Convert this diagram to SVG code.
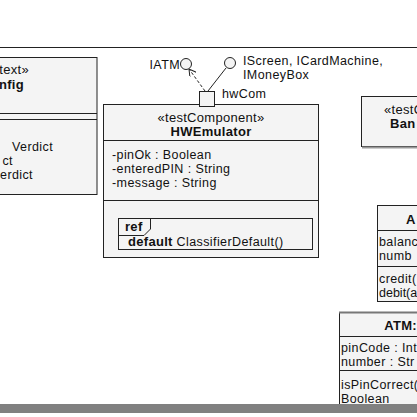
<svg xmlns="http://www.w3.org/2000/svg" width="417" height="417" viewBox="0 0 417 417">
<defs>
<style>
text{font-family:"Liberation Sans",Arial,sans-serif;font-size:12.5px;letter-spacing:0.4px;fill:#111}
.b{font-weight:bold;font-size:13px;letter-spacing:0.3px}
.st{font-size:13px;letter-spacing:0.3px}
.box{fill:#f4f4f4;stroke:#222;stroke-width:1}
.ln{stroke:#222;stroke-width:1;fill:none}
</style>
<marker id="arr" markerWidth="8" markerHeight="8" refX="7" refY="4" orient="auto" markerUnits="userSpaceOnUse">
<path d="M0,0 L7,4 L0,8" fill="none" stroke="#222" stroke-width="1"/>
</marker>
</defs>
<rect width="417" height="417" fill="#fff"/>
<line x1="0" y1="47.5" x2="417" y2="47.5" class="ln"/>

<g id="config">
<rect x="-5" y="57.5" width="102" height="137" class="box"/>
<line x1="-5" y1="113.5" x2="97" y2="113.5" class="ln"/>
<line x1="-5" y1="119.5" x2="97" y2="119.5" class="ln"/>
<text x="29" y="74" text-anchor="end" class="st">text»</text>
<text x="24" y="89" text-anchor="end" class="b">nfig</text>
<text x="12" y="151">Verdict</text>
<text x="13" y="165" text-anchor="end">ct</text>
<text x="33" y="179" text-anchor="end">erdict</text>
</g>

<g id="connectors">
<line x1="205" y1="91" x2="189" y2="69" class="ln" stroke-dasharray="3,2" marker-end="url(#arr)"/>
<line x1="208" y1="91" x2="226" y2="68" class="ln"/>
</g>

<g id="iatm">
<circle cx="186" cy="64" r="5.5" fill="#f4f4f4" stroke="#222"/>
<text x="180" y="69" text-anchor="end">IATM</text>
</g>
<g id="iscreen">
<circle cx="230" cy="63" r="5.5" fill="#f4f4f4" stroke="#222"/>
<text x="243" y="65">IScreen, ICardMachine,</text>
<text x="243" y="79">IMoneyBox</text>
</g>

<g id="hwemulator">
<rect x="103.5" y="104.5" width="215" height="153" class="box"/>
<line x1="103.5" y1="140.5" x2="318.5" y2="140.5" class="ln"/>
<line x1="103.5" y1="200.5" x2="318.5" y2="200.5" class="ln"/>
<text x="211" y="122" text-anchor="middle" class="st">«testComponent»</text>
<text x="211" y="136" text-anchor="middle" class="b">HWEmulator</text>
<text x="112" y="159">-pinOk : Boolean</text>
<text x="112" y="173">-enteredPIN : String</text>
<text x="112" y="187">-message : String</text>
<rect x="118.5" y="218.5" width="194" height="31" class="ln"/>
<path d="M118.5,235.5 H144 L150.5,229 V218.5" class="ln"/>
<text x="125" y="231" class="b">ref</text>
<text x="128" y="246"><tspan class="b">default</tspan> ClassifierDefault()</text>
</g>

<g id="hwcom">
<rect x="199.5" y="91.5" width="15" height="15" class="box"/>
<text x="222" y="98">hwCom</text>
</g>

<g id="bank">
<rect x="361.5" y="96.5" width="60" height="50" class="box"/>
<line x1="362" y1="147.5" x2="417" y2="147.5" stroke="#999" stroke-width="2"/>
<text x="384" y="114" class="st">«testC</text>
<text x="390" y="128" class="b">Ban</text>
</g>

<g id="account">
<rect x="377.5" y="205.5" width="45" height="96" class="box"/>
<line x1="377.5" y1="230.5" x2="417" y2="230.5" class="ln"/>
<line x1="377.5" y1="266.5" x2="417" y2="266.5" class="ln"/>
<text x="406" y="224" class="b">A</text>
<text x="379" y="246">balanc</text>
<text x="379" y="260">numb</text>
<text x="379" y="283">credit(</text>
<text x="379" y="297" style="letter-spacing:0">debit(a</text>
</g>

<g id="atm">
<rect x="339.5" y="312.5" width="85" height="100" class="box"/>
<line x1="339" y1="312.5" x2="417" y2="312.5" stroke="#777" stroke-width="2"/>
<line x1="339.5" y1="336.5" x2="417" y2="336.5" class="ln"/>
<line x1="339.5" y1="370.5" x2="417" y2="370.5" class="ln"/>
<text x="417" y="330" text-anchor="end" class="b">ATM:</text>
<text x="341" y="352">pinCode : Int</text>
<text x="341" y="366">number : Str</text>
<text x="341" y="389">isPinCorrect(</text>
<text x="341" y="403">Boolean</text>
</g>

<rect x="0" y="404" width="417" height="9" fill="#808080"/>
</svg>
